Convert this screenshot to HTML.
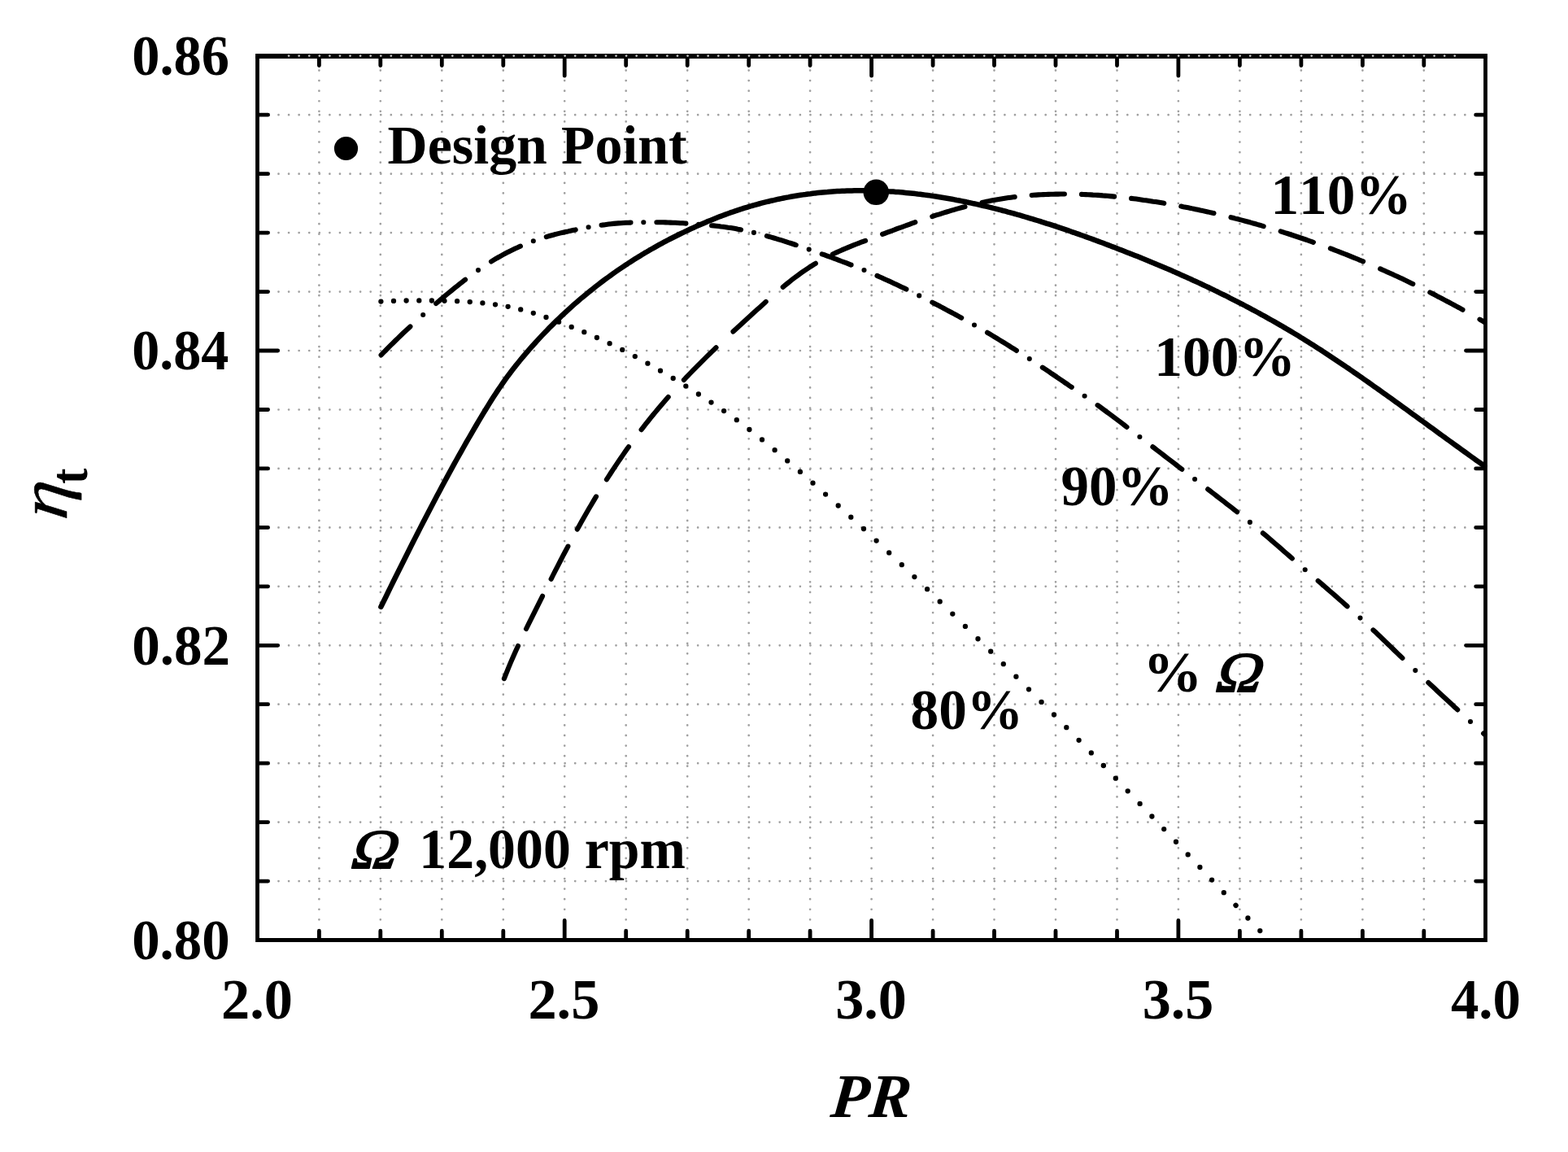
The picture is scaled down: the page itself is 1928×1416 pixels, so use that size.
<!DOCTYPE html>
<html lang="en"><head><meta charset="utf-8"><title>Turbine efficiency vs pressure ratio</title>
<style>
html,body{margin:0;padding:0;background:#fff;}
body{width:1928px;height:1416px;overflow:hidden;}
svg{display:block;}
text{font-family:"Liberation Serif","Times New Roman",Times,serif;font-weight:bold;fill:#000;font-kerning:none;}
.it{font-style:italic;}
.rg{font-weight:normal;}
</style></head><body>
<svg width="1928" height="1416" viewBox="0 0 1928 1416">
<rect x="0" y="0" width="1928" height="1416" fill="#fff"/>
<g stroke="#a0a0a0" stroke-width="2.7" fill="none" stroke-linecap="round" stroke-dasharray="0.01 12.566">
<path d="M392.4,1130.35V78.8 M467.8,1130.35V78.8 M543.3,1130.35V78.8 M618.8,1130.35V78.8 M694.2,1130.35V78.8 M769.7,1130.35V78.8 M845.2,1130.35V78.8 M920.7,1130.35V78.8 M996.1,1130.35V78.8 M1071.6,1130.35V78.8 M1147.1,1130.35V78.8 M1222.5,1130.35V78.8 M1298.0,1130.35V78.8 M1373.5,1130.35V78.8 M1448.9,1130.35V78.8 M1524.4,1130.35V78.8 M1599.9,1130.35V78.8 M1675.4,1130.35V78.8 M1750.8,1130.35V78.8 M342.50,141.2H1818.5 M342.50,213.7H1818.5 M342.50,286.1H1818.5 M342.50,358.6H1818.5 M342.50,431.0H1818.5 M342.50,503.5H1818.5 M342.50,575.9H1818.5 M342.50,648.4H1818.5 M342.50,720.8H1818.5 M342.50,793.3H1818.5 M342.50,865.7H1818.5 M342.50,938.2H1818.5 M342.50,1010.6H1818.5 M342.50,1083.1H1818.5"/>
</g>
<g stroke="#000" stroke-width="4.8" fill="none" stroke-linecap="round" stroke-linejoin="miter">
<path d="M316.5,69.0V1155.5H1826.5V69.0 M392.4,1155.5v-11.3 M392.4,68.8v11.700000000000001 M467.8,1155.5v-11.3 M467.8,68.8v11.700000000000001 M543.3,1155.5v-11.3 M543.3,68.8v11.700000000000001 M618.8,1155.5v-11.3 M618.8,68.8v11.700000000000001 M694.2,1155.5v-24.0 M694.2,68.8v24.4 M769.7,1155.5v-11.3 M769.7,68.8v11.700000000000001 M845.2,1155.5v-11.3 M845.2,68.8v11.700000000000001 M920.7,1155.5v-11.3 M920.7,68.8v11.700000000000001 M996.1,1155.5v-11.3 M996.1,68.8v11.700000000000001 M1071.6,1155.5v-24.0 M1071.6,68.8v24.4 M1147.1,1155.5v-11.3 M1147.1,68.8v11.700000000000001 M1222.5,1155.5v-11.3 M1222.5,68.8v11.700000000000001 M1298.0,1155.5v-11.3 M1298.0,68.8v11.700000000000001 M1373.5,1155.5v-11.3 M1373.5,68.8v11.700000000000001 M1448.9,1155.5v-24.0 M1448.9,68.8v24.4 M1524.4,1155.5v-11.3 M1524.4,68.8v11.700000000000001 M1599.9,1155.5v-11.3 M1599.9,68.8v11.700000000000001 M1675.4,1155.5v-11.3 M1675.4,68.8v11.700000000000001 M1750.8,1155.5v-11.3 M1750.8,68.8v11.700000000000001 M316.5,141.2h13.1 M1826.5,141.2h-11.8 M316.5,213.7h13.1 M1826.5,213.7h-11.8 M316.5,286.1h13.1 M1826.5,286.1h-11.8 M316.5,358.6h13.1 M1826.5,358.6h-11.8 M316.5,431.0h25.2 M1826.5,431.0h-23.9 M316.5,503.5h13.1 M1826.5,503.5h-11.8 M316.5,575.9h13.1 M1826.5,575.9h-11.8 M316.5,648.4h13.1 M1826.5,648.4h-11.8 M316.5,720.8h13.1 M1826.5,720.8h-11.8 M316.5,793.3h25.2 M1826.5,793.3h-23.9 M316.5,865.7h13.1 M1826.5,865.7h-11.8 M316.5,938.2h13.1 M1826.5,938.2h-11.8 M316.5,1010.6h13.1 M1826.5,1010.6h-11.8 M316.5,1083.1h13.1 M1826.5,1083.1h-11.8"/>
</g>
<path d="M314.1,69H1828.9" stroke="#000" stroke-width="6" fill="none"/>
<path d="M355.08,68.6H1791.26" stroke="#bdbdbd" stroke-width="2.8" stroke-linecap="round" stroke-dasharray="0.01 12.566" fill="none"/>
<g stroke="#000" stroke-width="6.1" fill="none" stroke-linecap="round" stroke-linejoin="round">
<path d="M468.4,370.6 L468.4,370.6 M484.0,369.9 L484.0,369.9 M499.6,369.5 L499.6,369.5 M515.3,369.4 L515.3,369.4 M530.9,369.5 L530.9,369.5 M546.5,369.8 L546.5,369.8 M562.1,370.2 L562.1,370.2 M577.7,371.1 L577.8,371.1 M593.4,372.4 L593.4,372.4 M609.0,374.3 L609.0,374.3 M624.6,376.8 L624.6,376.8 M640.2,380.4 L640.2,380.4 M655.8,384.8 L655.8,384.8 M671.5,390.0 L671.5,390.0 M687.1,395.7 L687.1,395.7 M702.7,401.8 L702.7,401.9 M718.3,408.2 L718.3,408.2 M733.9,415.0 L733.9,415.0 M749.6,422.2 L749.6,422.2 M765.2,429.9 L765.2,429.9 M780.8,438.1 L780.8,438.1 M796.4,446.7 L796.4,446.7 M812.0,455.7 L812.0,455.7 M827.7,465.0 L827.7,465.0 M843.3,474.6 L843.3,474.6 M858.9,484.5 L858.9,484.5 M874.5,494.6 L874.5,494.6 M890.1,505.1 L890.1,505.1 M905.8,516.2 L905.8,516.2 M921.4,528.0 L921.4,528.0 M937.0,540.4 L937.0,540.4 M952.6,553.2 L952.6,553.2 M968.2,566.4 L968.2,566.4 M983.9,579.9 L983.9,579.9 M999.5,593.7 L999.5,593.7 M1015.1,607.6 L1015.1,607.6 M1030.7,621.5 L1030.7,621.6 M1046.3,635.7 L1046.3,635.7 M1062.0,650.0 L1062.0,650.0 M1077.6,664.6 L1077.6,664.6 M1093.2,679.4 L1093.2,679.4 M1108.8,694.2 L1108.8,694.2 M1124.4,709.1 L1124.4,709.1 M1140.1,724.2 L1140.1,724.2 M1155.7,739.4 L1155.7,739.4 M1171.3,754.6 L1171.3,754.6 M1186.9,769.9 L1186.9,769.9 M1202.5,785.2 L1202.5,785.3 M1218.2,800.7 L1218.2,800.7 M1233.8,816.1 L1233.8,816.2 M1249.4,831.7 L1249.4,831.7 M1265.0,847.3 L1265.0,847.3 M1280.5,862.9 L1280.6,862.9 M1296.0,878.5 L1296.0,878.6 M1311.3,894.2 L1311.3,894.2 M1326.6,909.8 L1326.6,909.8 M1341.8,925.4 L1341.8,925.4 M1356.8,941.0 L1356.9,941.0 M1371.8,956.6 L1371.8,956.7 M1386.7,972.3 L1386.7,972.3 M1401.6,987.9 L1401.6,987.9 M1416.4,1003.5 L1416.4,1003.5 M1431.2,1019.1 L1431.2,1019.1 M1446.0,1034.7 L1446.0,1034.8 M1460.7,1050.4 L1460.7,1050.4 M1475.4,1066.0 L1475.4,1066.0 M1490.1,1081.6 L1490.1,1081.6 M1504.8,1097.2 L1504.8,1097.2 M1519.5,1112.8 L1519.6,1112.9 M1534.4,1128.5 L1534.4,1128.5 M1549.3,1144.1 L1549.3,1144.1" stroke-width="6.3"/>
<path d="M468.6,436.4 L471.4,433.5 L474.4,430.5 L477.4,427.4 L480.4,424.4 L483.4,421.5 L486.4,418.5 L489.4,415.6 L492.4,412.7 L495.4,409.8 L498.4,407.0 L501.4,404.2 L504.4,401.4 M520.2,387.0 L520.2,387.0 M536.2,373.0 L538.4,371.2 L541.4,368.6 L544.4,366.1 L547.4,363.5 L550.4,361.0 L553.4,358.6 L556.4,356.1 L559.4,353.7 L562.4,351.3 L565.4,348.9 L568.4,346.6 L571.4,344.2 L572.1,343.7 M588.0,332.1 L588.0,332.1 M604.0,321.5 L606.4,320.0 L609.4,318.2 L612.4,316.5 L615.4,314.8 L618.4,313.1 L621.4,311.5 L624.4,309.9 L627.4,308.4 L630.4,307.0 L633.4,305.5 L636.4,304.2 L639.4,302.8 L639.9,302.6 M655.8,296.3 L655.8,296.3 M671.8,291.1 L674.4,290.3 L677.4,289.5 L680.4,288.7 L683.4,287.9 L686.4,287.1 L689.4,286.4 L692.4,285.7 L695.4,285.0 L698.4,284.4 L701.4,283.7 L704.4,283.1 L707.4,282.5 L707.7,282.4 M723.6,279.3 L723.6,279.3 M739.6,276.7 L742.4,276.4 L745.4,276.0 L748.4,275.6 L751.4,275.2 L754.4,274.9 L757.4,274.6 L760.4,274.4 L763.4,274.2 L766.4,274.0 L769.4,273.8 L772.4,273.7 L775.4,273.6 L775.5,273.6 M791.3,273.2 L791.3,273.2 M807.4,273.2 L809.4,273.2 L812.4,273.2 L815.4,273.3 L818.4,273.4 L821.4,273.5 L824.4,273.6 L827.4,273.7 L830.4,273.8 L833.4,274.0 L836.4,274.2 L839.4,274.3 L842.4,274.5 L843.3,274.6 M859.1,275.7 L859.1,275.7 M875.1,277.2 L877.4,277.4 L880.4,277.7 L883.4,278.1 L886.4,278.5 L889.4,278.8 L892.4,279.2 L895.4,279.7 L898.4,280.1 L901.4,280.6 L904.4,281.1 L907.4,281.7 L910.4,282.2 L911.0,282.4 M926.9,285.9 L926.9,285.9 M942.9,290.1 L945.4,290.8 L948.4,291.6 L951.4,292.5 L954.4,293.4 L957.4,294.3 L960.4,295.2 L963.4,296.1 L966.4,297.1 L969.4,298.1 L972.4,299.0 L975.4,300.0 L978.4,301.0 L978.8,301.1 M994.7,306.6 L994.7,306.6 M1010.7,312.3 L1013.4,313.2 L1016.4,314.3 L1019.4,315.4 L1022.4,316.5 L1025.4,317.6 L1028.4,318.7 L1031.4,319.8 L1034.4,321.0 L1037.4,322.1 L1040.4,323.2 L1043.4,324.4 L1046.4,325.6 L1046.6,325.6 M1062.5,332.0 L1062.5,332.0 M1078.5,338.9 L1081.4,340.2 L1084.4,341.5 L1087.4,342.9 L1090.4,344.3 L1093.4,345.6 L1096.4,347.0 L1099.4,348.4 L1102.4,349.8 L1105.4,351.2 L1108.4,352.7 L1111.4,354.1 L1114.4,355.6 M1130.2,363.4 L1130.2,363.4 M1146.3,371.6 L1148.4,372.7 L1151.4,374.3 L1154.4,375.8 L1157.4,377.4 L1160.4,379.0 L1163.4,380.6 L1166.4,382.2 L1169.4,383.8 L1172.4,385.4 L1175.4,387.0 L1178.4,388.6 L1181.4,390.3 L1182.2,390.7 M1198.0,399.5 L1198.0,399.5 M1214.0,408.8 L1216.4,410.2 L1219.4,412.0 L1222.4,413.8 L1225.4,415.6 L1228.4,417.5 L1231.4,419.3 L1234.4,421.1 L1237.4,423.0 L1240.4,424.9 L1243.4,426.8 L1246.4,428.6 L1249.4,430.5 L1249.9,430.9 M1265.8,441.1 L1265.8,441.1 M1281.8,451.6 L1284.4,453.3 L1287.4,455.3 L1290.4,457.3 L1293.4,459.4 L1296.4,461.4 L1299.4,463.4 L1302.4,465.5 L1305.4,467.5 L1308.4,469.6 L1311.4,471.6 L1314.4,473.7 L1317.4,475.7 L1317.7,475.9 M1333.6,486.8 L1333.6,486.8 M1349.6,498.1 L1352.4,500.1 L1355.4,502.3 L1358.4,504.5 L1361.4,506.7 L1364.4,508.9 L1367.4,511.1 L1370.4,513.4 L1373.4,515.6 L1376.4,517.9 L1379.4,520.2 L1382.4,522.5 L1385.4,524.8 L1385.5,524.9 M1401.4,537.0 L1401.4,537.0 M1417.4,549.3 L1419.4,550.8 L1422.4,553.1 L1425.4,555.4 L1428.4,557.7 L1431.4,560.0 L1434.4,562.3 L1437.4,564.6 L1440.4,566.9 L1443.4,569.2 L1446.4,571.5 L1449.4,573.8 L1452.4,576.2 L1453.3,576.8 M1469.1,589.0 L1469.1,589.0 M1485.2,601.3 L1487.4,603.0 L1490.4,605.3 L1493.4,607.6 L1496.4,610.0 L1499.4,612.3 L1502.4,614.6 L1505.4,616.9 L1508.4,619.3 L1511.4,621.6 L1514.4,623.9 L1517.4,626.3 L1520.4,628.6 L1521.1,629.2 M1536.9,641.9 L1536.9,641.9 M1552.9,655.3 L1555.4,657.4 L1558.4,659.9 L1561.4,662.5 L1564.4,665.1 L1567.4,667.7 L1570.4,670.3 L1573.4,672.9 L1576.4,675.6 L1579.4,678.2 L1582.4,680.8 L1585.4,683.4 L1588.4,686.0 L1588.8,686.4 M1604.7,700.2 L1604.7,700.2 M1620.7,714.0 L1623.4,716.3 L1626.4,718.9 L1629.4,721.5 L1632.4,724.1 L1635.4,726.7 L1638.4,729.3 L1641.4,731.9 L1644.4,734.6 L1647.4,737.2 L1650.4,739.8 L1653.4,742.5 L1656.4,745.1 L1656.6,745.3 M1672.5,759.6 L1672.5,759.6 M1688.5,774.4 L1691.4,777.1 L1694.4,780.0 L1697.4,782.8 L1700.4,785.7 L1703.4,788.6 L1706.4,791.5 L1709.4,794.4 L1712.4,797.3 L1715.4,800.2 L1718.4,803.1 L1721.4,806.0 L1724.4,808.9 L1724.4,808.9 M1740.3,824.1 L1740.3,824.1 M1756.3,839.1 L1758.4,841.0 L1761.4,843.8 L1764.4,846.6 L1767.4,849.4 L1770.4,852.2 L1773.4,855.0 L1776.4,857.8 L1779.4,860.5 L1782.4,863.3 L1785.4,866.1 L1788.4,868.9 L1791.4,871.6 L1792.2,872.4 M1808.0,887.0 L1808.0,887.0 M1824.1,901.6 L1825.4,902.8"/>
<path d="M619.9,834.2 L622.0,828.8 L625.0,821.4 L628.0,814.2 L631.0,807.3 L634.0,800.6 L637.0,794.0 M647.0,773.0 L650.0,766.9 L653.0,760.9 L656.0,754.9 L659.0,748.9 L662.0,742.8 L665.0,736.8 L667.0,732.8 M677.6,711.8 L680.0,707.0 L683.0,701.1 L686.0,695.3 L689.0,689.5 L692.0,683.7 L695.0,678.0 L698.0,672.4 L698.4,671.6 M709.8,650.6 L712.0,646.7 L715.0,641.3 L718.0,636.0 L721.0,630.8 L724.0,625.6 L727.0,620.5 L730.0,615.4 L733.0,610.4 M745.9,589.4 L748.0,586.2 L751.0,581.5 L754.0,576.9 L757.0,572.4 L760.0,567.9 L763.0,563.5 L766.0,559.1 L769.0,554.8 L772.0,550.6 L773.0,549.2 M788.6,528.2 L791.0,525.1 L794.0,521.2 L797.0,517.5 L800.0,513.7 L803.0,510.0 L806.0,506.4 L809.0,502.8 L812.0,499.2 L815.0,495.7 L818.0,492.2 L821.0,488.8 L821.7,488.0 M840.9,467.0 L843.0,464.7 L846.0,461.6 L849.0,458.5 L852.0,455.4 L855.0,452.4 L858.0,449.3 L861.0,446.3 L864.0,443.3 L867.0,440.4 L870.0,437.4 L873.0,434.5 L876.0,431.6 L879.0,428.7 L880.5,427.3 M901.5,407.6 L904.0,405.3 L907.0,402.5 L910.0,399.8 L913.0,397.0 L916.0,394.3 L919.0,391.5 L922.0,388.8 L925.0,386.0 L928.0,383.3 L931.0,380.6 L934.0,377.9 L937.0,375.2 L940.0,372.5 L941.7,370.9 M962.7,352.8 L965.0,350.9 L968.0,348.5 L971.0,346.1 L974.0,343.7 L977.0,341.4 L980.0,339.2 L983.0,337.0 L986.0,334.8 L989.0,332.7 L992.0,330.7 L995.0,328.7 L998.0,326.8 L1001.0,324.9 L1002.9,323.8 M1023.9,312.5 L1026.0,311.5 L1029.0,310.1 L1032.0,308.8 L1035.0,307.4 L1038.0,306.1 L1041.0,304.9 L1044.0,303.6 L1047.0,302.4 L1050.0,301.2 L1053.0,300.0 L1056.0,298.8 L1059.0,297.7 L1062.0,296.6 L1064.1,295.8 M1085.1,287.9 L1088.0,286.8 L1091.0,285.7 L1094.0,284.6 L1097.0,283.5 L1100.0,282.4 L1103.0,281.2 L1106.0,280.1 L1109.0,279.1 L1112.0,278.0 L1115.0,276.9 L1118.0,275.8 L1121.0,274.7 L1124.0,273.7 L1125.3,273.2 M1146.3,266.1 L1149.0,265.2 L1152.0,264.2 L1155.0,263.3 L1158.0,262.3 L1161.0,261.4 L1164.0,260.5 L1167.0,259.6 L1170.0,258.7 L1173.0,257.8 L1176.0,256.9 L1179.0,256.1 L1182.0,255.3 L1185.0,254.5 L1186.5,254.1 M1207.5,249.0 L1210.0,248.4 L1213.0,247.8 L1216.0,247.2 L1219.0,246.6 L1222.0,246.0 L1225.0,245.5 L1228.0,245.0 L1231.0,244.5 L1234.0,244.0 L1237.0,243.5 L1240.0,243.1 L1243.0,242.7 L1246.0,242.3 L1247.7,242.1 M1268.7,240.0 L1271.0,239.8 L1274.0,239.6 L1277.0,239.4 L1280.0,239.3 L1283.0,239.1 L1286.0,239.0 L1289.0,238.9 L1292.0,238.8 L1295.0,238.7 L1298.0,238.6 L1301.0,238.6 L1304.0,238.5 L1307.0,238.5 L1308.9,238.5 M1329.9,238.9 L1332.0,239.0 L1335.0,239.1 L1338.0,239.2 L1341.0,239.4 L1344.0,239.6 L1347.0,239.7 L1350.0,239.9 L1353.0,240.1 L1356.0,240.4 L1359.0,240.6 L1362.0,240.8 L1365.0,241.1 L1368.0,241.4 L1370.1,241.6 M1391.1,243.9 L1394.0,244.2 L1397.0,244.6 L1400.0,245.0 L1403.0,245.4 L1406.0,245.9 L1409.0,246.3 L1412.0,246.7 L1415.0,247.2 L1418.0,247.7 L1421.0,248.1 L1424.0,248.6 L1427.0,249.1 L1430.0,249.6 L1431.3,249.8 M1452.3,253.6 L1455.0,254.2 L1458.0,254.7 L1461.0,255.3 L1464.0,255.9 L1467.0,256.6 L1470.0,257.2 L1473.0,257.8 L1476.0,258.5 L1479.0,259.1 L1482.0,259.8 L1485.0,260.4 L1488.0,261.1 L1491.0,261.8 L1492.5,262.1 M1513.5,267.2 L1516.0,267.8 L1519.0,268.6 L1522.0,269.3 L1525.0,270.1 L1528.0,270.9 L1531.0,271.7 L1534.0,272.5 L1537.0,273.3 L1540.0,274.2 L1543.0,275.0 L1546.0,275.9 L1549.0,276.7 L1552.0,277.6 L1553.7,278.1 M1574.7,284.4 L1577.0,285.1 L1580.0,286.1 L1583.0,287.0 L1586.0,288.0 L1589.0,289.0 L1592.0,290.0 L1595.0,291.0 L1598.0,292.0 L1601.0,293.0 L1604.0,294.0 L1607.0,295.0 L1610.0,296.1 L1613.0,297.1 L1614.9,297.8 M1635.9,305.4 L1638.0,306.2 L1641.0,307.4 L1644.0,308.5 L1647.0,309.7 L1650.0,310.8 L1653.0,312.0 L1656.0,313.2 L1659.0,314.4 L1662.0,315.6 L1665.0,316.8 L1668.0,318.0 L1671.0,319.3 L1674.0,320.5 L1676.1,321.4 M1697.1,330.4 L1700.0,331.7 L1703.0,333.0 L1706.0,334.4 L1709.0,335.7 L1712.0,337.1 L1715.0,338.5 L1718.0,339.8 L1721.0,341.2 L1724.0,342.6 L1727.0,344.1 L1730.0,345.5 L1733.0,346.9 L1736.0,348.4 L1737.3,349.0 M1758.3,359.4 L1761.0,360.8 L1764.0,362.3 L1767.0,363.9 L1770.0,365.4 L1773.0,367.0 L1776.0,368.6 L1779.0,370.2 L1782.0,371.8 L1785.0,373.4 L1788.0,375.0 L1791.0,376.6 L1794.0,378.2 L1797.0,379.9 L1798.5,380.7 M1819.5,392.6 L1822.0,394.0 L1825.0,395.8"/>
<path d="M468.4,745.9 L471.4,739.8 L474.4,733.7 L477.4,727.5 L480.4,721.4 L483.4,715.3 L486.4,709.3 L489.4,703.2 L492.4,697.2 L495.4,691.2 L498.4,685.2 L501.4,679.2 L504.4,673.2 L507.4,667.3 L510.4,661.4 L513.4,655.5 L516.4,649.6 L519.4,643.8 L522.4,638.0 L525.4,632.2 L528.4,626.4 L531.4,620.7 L534.4,615.0 L537.4,609.3 L540.4,603.7 L543.4,598.0 L546.4,592.5 L549.4,586.9 L552.4,581.4 L555.4,575.9 L558.4,570.4 L561.4,565.0 L564.4,559.6 L567.4,554.3 L570.4,549.0 L573.4,543.7 L576.4,538.5 L579.4,533.3 L582.4,528.1 L585.4,523.0 L588.4,517.9 L591.4,512.9 L594.4,507.9 L597.4,503.0 L600.4,498.1 L603.4,493.3 L606.4,488.6 L609.4,483.9 L612.4,479.4 L615.4,475.0 L618.4,470.6 L621.4,466.4 L624.4,462.2 L627.4,458.2 L630.4,454.3 L633.4,450.4 L636.4,446.7 L639.4,443.0 L642.4,439.4 L645.4,435.8 L648.4,432.3 L651.4,428.9 L654.4,425.5 L657.4,422.2 L660.4,418.9 L663.4,415.6 L666.4,412.4 L669.4,409.3 L672.4,406.2 L675.4,403.1 L678.4,400.1 L681.4,397.1 L684.4,394.2 L687.4,391.3 L690.4,388.4 L693.4,385.6 L696.4,382.8 L699.4,380.1 L702.4,377.4 L705.4,374.7 L708.4,372.1 L711.4,369.5 L714.4,366.9 L717.4,364.4 L720.4,361.9 L723.4,359.5 L726.4,357.1 L729.4,354.7 L732.4,352.3 L735.4,350.0 L738.4,347.7 L741.4,345.4 L744.4,343.2 L747.4,341.0 L750.4,338.8 L753.4,336.7 L756.4,334.5 L759.4,332.4 L762.4,330.4 L765.4,328.4 L768.4,326.3 L771.4,324.4 L774.4,322.4 L777.4,320.5 L780.4,318.6 L783.4,316.7 L786.4,314.9 L789.4,313.0 L792.4,311.2 L795.4,309.5 L798.4,307.7 L801.4,306.0 L804.4,304.3 L807.4,302.6 L810.4,300.9 L813.4,299.3 L816.4,297.7 L819.4,296.1 L822.4,294.5 L825.4,293.0 L828.4,291.5 L831.4,290.0 L834.4,288.5 L837.4,287.0 L840.4,285.6 L843.4,284.1 L846.4,282.7 L849.4,281.3 L852.4,280.0 L855.4,278.6 L858.4,277.3 L861.4,276.0 L864.4,274.7 L867.4,273.4 L870.4,272.1 L873.4,270.9 L876.4,269.7 L879.4,268.5 L882.4,267.3 L885.4,266.1 L888.4,265.0 L891.4,263.9 L894.4,262.8 L897.4,261.7 L900.4,260.7 L903.4,259.6 L906.4,258.6 L909.4,257.6 L912.4,256.7 L915.4,255.7 L918.4,254.8 L921.4,253.9 L924.4,253.0 L927.4,252.2 L930.4,251.3 L933.4,250.5 L936.4,249.7 L939.4,248.9 L942.4,248.2 L945.4,247.5 L948.4,246.7 L951.4,246.1 L954.4,245.4 L957.4,244.7 L960.4,244.1 L963.4,243.5 L966.4,242.9 L969.4,242.4 L972.4,241.8 L975.4,241.3 L978.4,240.8 L981.4,240.3 L984.4,239.8 L987.4,239.4 L990.4,239.0 L993.4,238.5 L996.4,238.2 L999.4,237.8 L1002.4,237.4 L1005.4,237.1 L1008.4,236.8 L1011.4,236.5 L1014.4,236.2 L1017.4,236.0 L1020.4,235.7 L1023.4,235.5 L1026.4,235.3 L1029.4,235.1 L1032.4,235.0 L1035.4,234.8 L1038.4,234.7 L1041.4,234.6 L1044.4,234.5 L1047.4,234.4 L1050.4,234.3 L1053.4,234.3 L1056.4,234.3 L1059.4,234.3 L1062.4,234.3 L1065.4,234.3 L1068.4,234.3 L1071.4,234.4 L1074.4,234.5 L1077.4,234.6 L1080.4,234.7 L1083.4,234.8 L1086.4,234.9 L1089.4,235.1 L1092.4,235.3 L1095.4,235.4 L1098.4,235.6 L1101.4,235.9 L1104.4,236.1 L1107.4,236.3 L1110.4,236.6 L1113.4,236.9 L1116.4,237.2 L1119.4,237.5 L1122.4,237.8 L1125.4,238.1 L1128.4,238.5 L1131.4,238.8 L1134.4,239.2 L1137.4,239.6 L1140.4,240.0 L1143.4,240.4 L1146.4,240.9 L1149.4,241.3 L1152.4,241.8 L1155.4,242.3 L1158.4,242.8 L1161.4,243.3 L1164.4,243.8 L1167.4,244.3 L1170.4,244.8 L1173.4,245.4 L1176.4,246.0 L1179.4,246.5 L1182.4,247.1 L1185.4,247.7 L1188.4,248.3 L1191.4,249.0 L1194.4,249.6 L1197.4,250.3 L1200.4,250.9 L1203.4,251.6 L1206.4,252.3 L1209.4,253.0 L1212.4,253.7 L1215.4,254.4 L1218.4,255.1 L1221.4,255.9 L1224.4,256.6 L1227.4,257.4 L1230.4,258.2 L1233.4,259.0 L1236.4,259.7 L1239.4,260.6 L1242.4,261.4 L1245.4,262.2 L1248.4,263.0 L1251.4,263.9 L1254.4,264.7 L1257.4,265.6 L1260.4,266.5 L1263.4,267.4 L1266.4,268.3 L1269.4,269.2 L1272.4,270.1 L1275.4,271.0 L1278.4,271.9 L1281.4,272.9 L1284.4,273.8 L1287.4,274.8 L1290.4,275.7 L1293.4,276.7 L1296.4,277.7 L1299.4,278.7 L1302.4,279.7 L1305.4,280.7 L1308.4,281.7 L1311.4,282.7 L1314.4,283.7 L1317.4,284.8 L1320.4,285.8 L1323.4,286.9 L1326.4,287.9 L1329.4,289.0 L1332.4,290.0 L1335.4,291.1 L1338.4,292.2 L1341.4,293.3 L1344.4,294.4 L1347.4,295.5 L1350.4,296.6 L1353.4,297.7 L1356.4,298.8 L1359.4,300.0 L1362.4,301.1 L1365.4,302.2 L1368.4,303.4 L1371.4,304.5 L1374.4,305.7 L1377.4,306.9 L1380.4,308.0 L1383.4,309.2 L1386.4,310.4 L1389.4,311.6 L1392.4,312.7 L1395.4,313.9 L1398.4,315.1 L1401.4,316.3 L1404.4,317.6 L1407.4,318.8 L1410.4,320.0 L1413.4,321.2 L1416.4,322.5 L1419.4,323.7 L1422.4,325.0 L1425.4,326.2 L1428.4,327.5 L1431.4,328.8 L1434.4,330.1 L1437.4,331.3 L1440.4,332.6 L1443.4,333.9 L1446.4,335.3 L1449.4,336.6 L1452.4,337.9 L1455.4,339.2 L1458.4,340.6 L1461.4,341.9 L1464.4,343.3 L1467.4,344.7 L1470.4,346.0 L1473.4,347.4 L1476.4,348.8 L1479.4,350.2 L1482.4,351.6 L1485.4,353.0 L1488.4,354.5 L1491.4,355.9 L1494.4,357.4 L1497.4,358.8 L1500.4,360.3 L1503.4,361.8 L1506.4,363.2 L1509.4,364.7 L1512.4,366.3 L1515.4,367.8 L1518.4,369.3 L1521.4,370.8 L1524.4,372.4 L1527.4,373.9 L1530.4,375.5 L1533.4,377.1 L1536.4,378.7 L1539.4,380.3 L1542.4,381.9 L1545.4,383.5 L1548.4,385.1 L1551.4,386.8 L1554.4,388.4 L1557.4,390.1 L1560.4,391.8 L1563.4,393.5 L1566.4,395.2 L1569.4,396.9 L1572.4,398.6 L1575.4,400.3 L1578.4,402.1 L1581.4,403.9 L1584.4,405.6 L1587.4,407.4 L1590.4,409.2 L1593.4,411.0 L1596.4,412.8 L1599.4,414.7 L1602.4,416.5 L1605.4,418.4 L1608.4,420.3 L1611.4,422.2 L1614.4,424.1 L1617.4,426.0 L1620.4,427.9 L1623.4,429.8 L1626.4,431.8 L1629.4,433.7 L1632.4,435.7 L1635.4,437.7 L1638.4,439.7 L1641.4,441.7 L1644.4,443.7 L1647.4,445.7 L1650.4,447.7 L1653.4,449.7 L1656.4,451.8 L1659.4,453.8 L1662.4,455.9 L1665.4,458.0 L1668.4,460.0 L1671.4,462.1 L1674.4,464.2 L1677.4,466.3 L1680.4,468.4 L1683.4,470.5 L1686.4,472.6 L1689.4,474.8 L1692.4,476.9 L1695.4,479.0 L1698.4,481.1 L1701.4,483.3 L1704.4,485.4 L1707.4,487.6 L1710.4,489.7 L1713.4,491.9 L1716.4,494.1 L1719.4,496.2 L1722.4,498.4 L1725.4,500.6 L1728.4,502.7 L1731.4,504.9 L1734.4,507.1 L1737.4,509.3 L1740.4,511.4 L1743.4,513.6 L1746.4,515.8 L1749.4,518.0 L1752.4,520.2 L1755.4,522.4 L1758.4,524.6 L1761.4,526.7 L1764.4,528.9 L1767.4,531.1 L1770.4,533.3 L1773.4,535.5 L1776.4,537.7 L1779.4,539.8 L1782.4,542.0 L1785.4,544.2 L1788.4,546.4 L1791.4,548.5 L1794.4,550.7 L1797.4,552.9 L1800.4,555.0 L1803.4,557.2 L1806.4,559.3 L1809.4,561.5 L1812.4,563.6 L1815.4,565.8 L1818.4,567.9 L1821.4,570.0 L1824.4,572.1 L1825.4,572.9" stroke-width="6.5"/>
</g>
<circle cx="1077.3" cy="236.3" r="15.8" fill="#000"/>
<circle cx="425.5" cy="182.5" r="14.6" fill="#000"/>
<text transform="translate(162.19,92.20) scale(1.0000,1.0226)" font-size="68.52">0.86</text>
<text transform="translate(162.21,454.43) scale(1.0000,1.0292)" font-size="68.09">0.84</text>
<text transform="translate(162.17,816.67) scale(1.0000,1.0143)" font-size="69.09">0.82</text>
<text transform="translate(162.18,1178.90) scale(1.0000,1.0173)" font-size="68.88">0.80</text>
<text transform="translate(271.94,1251.80) scale(1.0000,1.0013)" font-size="70.43">2.0</text>
<text transform="translate(649.45,1251.80) scale(1.0000,1.0026)" font-size="70.34">2.5</text>
<text transform="translate(1027.26,1251.80) scale(1.0000,1.0051)" font-size="70.17">3.0</text>
<text transform="translate(1404.77,1251.80) scale(1.0000,1.0064)" font-size="70.08">3.5</text>
<text transform="translate(1783.96,1251.80) scale(1.0000,1.0256)" font-size="68.77">4.0</text>
<text class="it" transform="translate(1020.04,1372.90) scale(1.0000,0.9933) skewX(-5.5)" font-size="76.85">PR</text>
<text class="rg it" stroke="#000" stroke-width="0.63" stroke-linejoin="round" transform="translate(0,680) rotate(-90) translate(39.92,81.85) scale(1.0000,0.8917) skewX(-6)" font-size="94.86">η</text>
<text transform="translate(0,680) rotate(-90) translate(85.07,106.60) scale(1.0000,1.1316)" font-size="57.92">t</text>
<text transform="translate(476.61,200.80) scale(1.0000,0.9998)" font-size="67.95">Design Point</text>
<text transform="translate(1562.45,262.80) scale(1.0000,0.9938)" font-size="69.30">110%</text>
<text transform="translate(1419.34,461.80) scale(1.0000,1.0114)" font-size="69.43">100%</text>
<text transform="translate(1304.61,620.70) scale(1.0000,1.0194)" font-size="69.03">90%</text>
<text transform="translate(1119.50,896.40) scale(1.0000,1.0068)" font-size="69.30">80%</text>
<text transform="translate(1405.54,849.90) scale(1.0000,0.9709)" font-size="72.79">%</text>
<text class="rg" stroke="#000" stroke-width="2.08" stroke-linejoin="round" transform="translate(1491.15,849.90) scale(1.0000,0.9193) skewX(-15)" font-size="75.58">Ω</text>
<text class="rg" stroke="#000" stroke-width="2.10" stroke-linejoin="round" transform="translate(428.27,1066.70) scale(1.0000,0.9085) skewX(-15)" font-size="75.31">Ω</text>
<text transform="translate(515.37,1066.70) scale(1.0000,1.0269)" font-size="67.80">12,000 rpm</text>
</svg>
</body></html>
